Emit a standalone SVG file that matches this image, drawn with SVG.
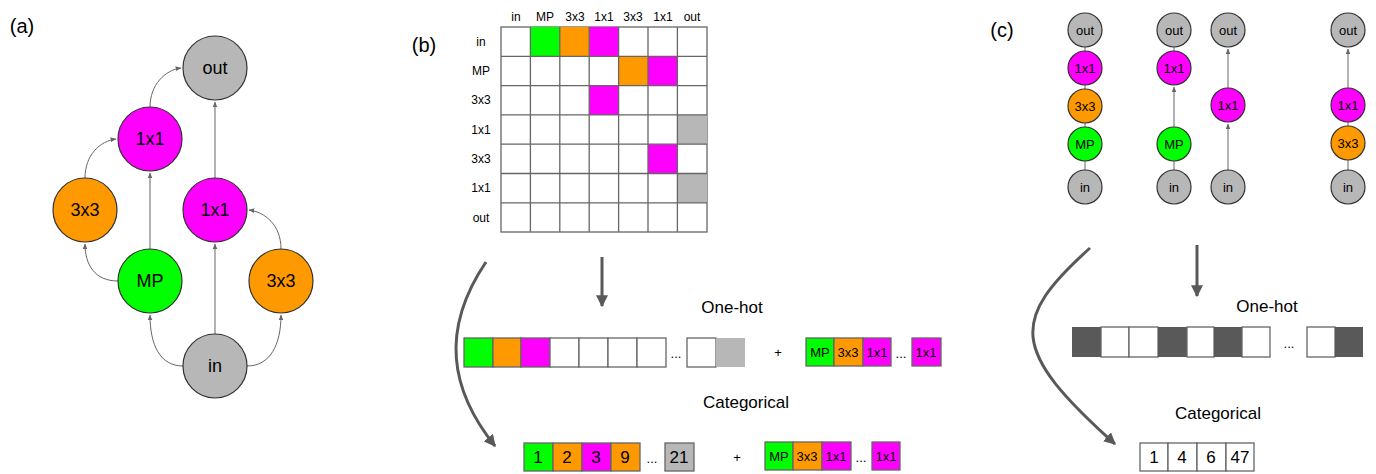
<svg xmlns="http://www.w3.org/2000/svg" width="1376" height="474" viewBox="0 0 1376 474">
<defs>
<marker id="ah" viewBox="0 0 10 10" refX="9" refY="5" markerWidth="6" markerHeight="6" orient="auto"><path d="M0,1 L10,5 L0,9 z" fill="#666"/></marker>
<marker id="big" viewBox="0 0 10 10" refX="9" refY="5" markerWidth="4" markerHeight="4" orient="auto"><path d="M0,0 L10,5 L0,10 z" fill="#595959"/></marker>
<style>
text{font-family:"Liberation Sans",Arial,sans-serif;fill:#000;text-anchor:middle;dominant-baseline:central}
.n{stroke:#333;stroke-width:1.2}
.g{fill:#b7b7b7}.o{fill:#ff9900}.m{fill:#ff00ff}.gr{fill:#00ff00}.w{fill:#fff}.d{fill:#595959}
.c{stroke:#666;stroke-width:1;fill:none}
.cell{stroke:#666;stroke-width:1.3}
.big{stroke:#595959;stroke-width:3;fill:none}
.a{font-size:20px}.t{font-size:18px}.s{font-size:13px}.l{font-size:12px}.k{font-size:17px}
</style>
</defs>
<text x="22" y="26" class="a">(a)</text>
<text x="424" y="45" class="a">(b)</text>
<text x="1002" y="30" class="a">(c)</text>

<g id="edges-a">
<path class="c" d="M118,281 C95,281 85,265 85,244" marker-end="url(#ah)"/>
<path class="c" d="M183,366 C160,366 150,345 150,315" marker-end="url(#ah)"/>
<path class="c" d="M247,366 C270,366 281,345 281,315" marker-end="url(#ah)"/>
<path class="c" d="M281,249 C281,225 265,212 249,210" marker-end="url(#ah)"/>
<path class="c" d="M85,178 C85,155 100,141 116,139" marker-end="url(#ah)"/>
<path class="c" d="M150,107 C150,85 165,70 181,68" marker-end="url(#ah)"/>
<path class="c" d="M150,249 L150,173" marker-end="url(#ah)"/>
<path class="c" d="M215,334 L215,244" marker-end="url(#ah)"/>
<path class="c" d="M215,178 L215,102" marker-end="url(#ah)"/>
</g>
<g id="a-out"><circle cx="215" cy="68" r="32" class="n g"/><text x="215" y="68" class="t">out</text></g>
<g id="a-1x1-l"><circle cx="150" cy="139" r="32" class="n m"/><text x="150" y="139" class="t">1x1</text></g>
<g id="a-3x3-l"><circle cx="85" cy="210" r="32" class="n o"/><text x="85" y="210" class="t">3x3</text></g>
<g id="a-1x1-r"><circle cx="215" cy="210" r="32" class="n m"/><text x="215" y="210" class="t">1x1</text></g>
<g id="a-mp"><circle cx="150" cy="281" r="32" class="n gr"/><text x="150" y="281" class="t">MP</text></g>
<g id="a-3x3-r"><circle cx="281" cy="281" r="32" class="n o"/><text x="281" y="281" class="t">3x3</text></g>
<g id="a-in"><circle cx="215" cy="366" r="32" class="n g"/><text x="215" y="366" class="t">in</text></g>

<g id="matrix">
<g class="l">
<text x="516" y="17">in</text><text x="545" y="17">MP</text><text x="575" y="17">3x3</text><text x="604" y="17">1x1</text><text x="633" y="17">3x3</text><text x="663" y="17">1x1</text><text x="692" y="17">out</text>
<text x="481" y="42">in</text><text x="481" y="71">MP</text><text x="481" y="100">3x3</text><text x="481" y="130">1x1</text><text x="481" y="159">3x3</text><text x="481" y="188">1x1</text><text x="481" y="218">out</text>
</g>
<rect x="501" y="27" width="206" height="205" class="w cell"/>
<rect x="530.4" y="27" width="29.4" height="29.3" class="gr"/>
<rect x="559.8" y="27" width="29.4" height="29.3" class="o"/>
<rect x="589.2" y="27" width="29.4" height="29.3" class="m"/>
<rect x="618.6" y="56.3" width="29.4" height="29.3" class="o"/>
<rect x="648" y="56.3" width="29.4" height="29.3" class="m"/>
<rect x="589.2" y="85.6" width="29.4" height="29.3" class="m"/>
<rect x="677.4" y="114.9" width="29.6" height="29.3" class="g"/>
<rect x="648" y="144.2" width="29.4" height="29.3" class="m"/>
<rect x="677.4" y="173.5" width="29.6" height="29.3" class="g"/>
<path class="cell" fill="none" d="M530.4,27V232M559.8,27V232M589.2,27V232M618.6,27V232M648,27V232M677.4,27V232M501,56.3H707M501,85.6H707M501,114.9H707M501,144.2H707M501,173.5H707M501,202.8H707"/>
</g>

<g id="b-arrows">
<path class="big" d="M602,257 L602,306" marker-end="url(#big)"/>
<path class="big" d="M486,262 C440,330 450,390 495,446" marker-end="url(#big)"/>
</g>
<text x="732" y="307" class="k">One-hot</text>
<g id="b-onehot">
<rect x="464" y="338" width="29" height="29" class="gr cell"/>
<rect x="493" y="338" width="28" height="29" class="o cell"/>
<rect x="521" y="338" width="29" height="29" class="m cell"/>
<rect x="550" y="338" width="29" height="29" class="w cell"/>
<rect x="579" y="338" width="29" height="29" class="w cell"/>
<rect x="608" y="338" width="29" height="29" class="w cell"/>
<rect x="637" y="338" width="29" height="29" class="w cell"/>
<text x="676" y="353" class="s">...</text>
<rect x="687" y="338" width="29" height="29" class="w cell"/>
<rect x="716" y="338" width="29" height="29" class="g"/>
</g>
<text x="778" y="352" class="s">+</text>
<g id="b-ops1" class="s">
<rect x="806" y="338" width="28" height="28" class="gr cell"/><text x="820" y="352">MP</text>
<rect x="834" y="338" width="29" height="28" class="o cell"/><text x="848" y="352">3x3</text>
<rect x="863" y="338" width="28" height="28" class="m cell"/><text x="877" y="352">1x1</text>
<text x="901" y="353">...</text>
<rect x="912" y="338" width="29" height="28" class="m cell"/><text x="926" y="352">1x1</text>
</g>
<text x="746" y="402" class="k">Categorical</text>
<g id="b-cat" class="k">
<rect x="524" y="443" width="29" height="28" class="gr cell"/><text x="538" y="457">1</text>
<rect x="553" y="443" width="29" height="28" class="o cell"/><text x="567" y="457">2</text>
<rect x="582" y="443" width="29" height="28" class="m cell"/><text x="596" y="457">3</text>
<rect x="611" y="443" width="29" height="28" class="o cell"/><text x="625" y="457">9</text>
<text x="652" y="458" class="s">...</text>
<rect x="665" y="443" width="29" height="28" class="g cell"/><text x="679" y="457">21</text>
</g>
<text x="737" y="457" class="s">+</text>
<g id="b-ops2" class="s">
<rect x="765" y="442" width="28" height="28" class="gr cell"/><text x="779" y="456">MP</text>
<rect x="793" y="442" width="29" height="28" class="o cell"/><text x="807" y="456">3x3</text>
<rect x="822" y="442" width="29" height="28" class="m cell"/><text x="836" y="456">1x1</text>
<text x="861" y="457">...</text>
<rect x="872" y="442" width="28" height="28" class="m cell"/><text x="886" y="456">1x1</text>
</g>

<g id="edges-c">
<path class="c" d="M1085,47V51M1085,85V89M1085,123V127M1085,161V170"/>
<path class="c" d="M1174,47V51M1174,161V170"/>
<path class="c" d="M1174,127V87" marker-end="url(#ah)"/>
<path class="c" d="M1228,170V124" marker-end="url(#ah)"/>
<path class="c" d="M1228,88V49" marker-end="url(#ah)"/>
<path class="c" d="M1348,88V49" marker-end="url(#ah)"/>
<path class="c" d="M1348,122V126M1348,160V170"/>
</g>
<g class="s">
<g id="c1-out"><circle cx="1085" cy="30" r="17" class="n g"/><text x="1085" y="30">out</text></g>
<g id="c1-1x1"><circle cx="1085" cy="68" r="17" class="n m"/><text x="1085" y="68">1x1</text></g>
<g id="c1-3x3"><circle cx="1085" cy="106" r="17" class="n o"/><text x="1085" y="106">3x3</text></g>
<g id="c1-mp"><circle cx="1085" cy="144" r="17" class="n gr"/><text x="1085" y="144">MP</text></g>
<g id="c1-in"><circle cx="1085" cy="187" r="17" class="n g"/><text x="1085" y="187">in</text></g>
<g id="c2-out"><circle cx="1174" cy="30" r="17" class="n g"/><text x="1174" y="30">out</text></g>
<g id="c2-1x1"><circle cx="1174" cy="68" r="17" class="n m"/><text x="1174" y="68">1x1</text></g>
<g id="c2-mp"><circle cx="1174" cy="144" r="17" class="n gr"/><text x="1174" y="144">MP</text></g>
<g id="c2-in"><circle cx="1174" cy="187" r="17" class="n g"/><text x="1174" y="187">in</text></g>
<g id="c3-out"><circle cx="1228" cy="30" r="17" class="n g"/><text x="1228" y="30">out</text></g>
<g id="c3-1x1"><circle cx="1228" cy="105" r="17" class="n m"/><text x="1228" y="105">1x1</text></g>
<g id="c3-in"><circle cx="1228" cy="187" r="17" class="n g"/><text x="1228" y="187">in</text></g>
<g id="c4-out"><circle cx="1348" cy="30" r="17" class="n g"/><text x="1348" y="30">out</text></g>
<g id="c4-1x1"><circle cx="1348" cy="105" r="17" class="n m"/><text x="1348" y="105">1x1</text></g>
<g id="c4-3x3"><circle cx="1348" cy="143" r="17" class="n o"/><text x="1348" y="143">3x3</text></g>
<g id="c4-in"><circle cx="1348" cy="187" r="17" class="n g"/><text x="1348" y="187">in</text></g>
</g>

<g id="c-arrows">
<path class="big" d="M1197,245 L1197,296" marker-end="url(#big)"/>
<path class="big" d="M1090,248 C1010,320 1010,350 1115,444" marker-end="url(#big)"/>
</g>
<text x="1267" y="306" class="k">One-hot</text>
<g id="c-onehot">
<rect x="1072" y="327" width="29" height="30" class="d"/>
<rect x="1101" y="327" width="28" height="30" class="w cell"/>
<rect x="1129" y="327" width="29" height="30" class="w cell"/>
<rect x="1158" y="327" width="29" height="30" class="d"/>
<rect x="1187" y="327" width="27" height="30" class="w cell"/>
<rect x="1214" y="327" width="28" height="30" class="d"/>
<rect x="1242" y="327" width="28" height="30" class="w cell"/>
<text x="1289" y="343" class="s">...</text>
<rect x="1307" y="327" width="28" height="30" class="w cell"/>
<rect x="1335" y="327" width="28" height="30" class="d"/>
</g>
<text x="1218" y="413" class="k">Categorical</text>
<g id="c-cat" class="k">
<rect x="1140" y="443" width="28" height="28" class="w cell"/><text x="1154" y="457">1</text>
<rect x="1168" y="443" width="29" height="28" class="w cell"/><text x="1182" y="457">4</text>
<rect x="1197" y="443" width="29" height="28" class="w cell"/><text x="1211" y="457">6</text>
<rect x="1226" y="443" width="28" height="28" class="w cell"/><text x="1240" y="457">47</text>
</g>
</svg>
